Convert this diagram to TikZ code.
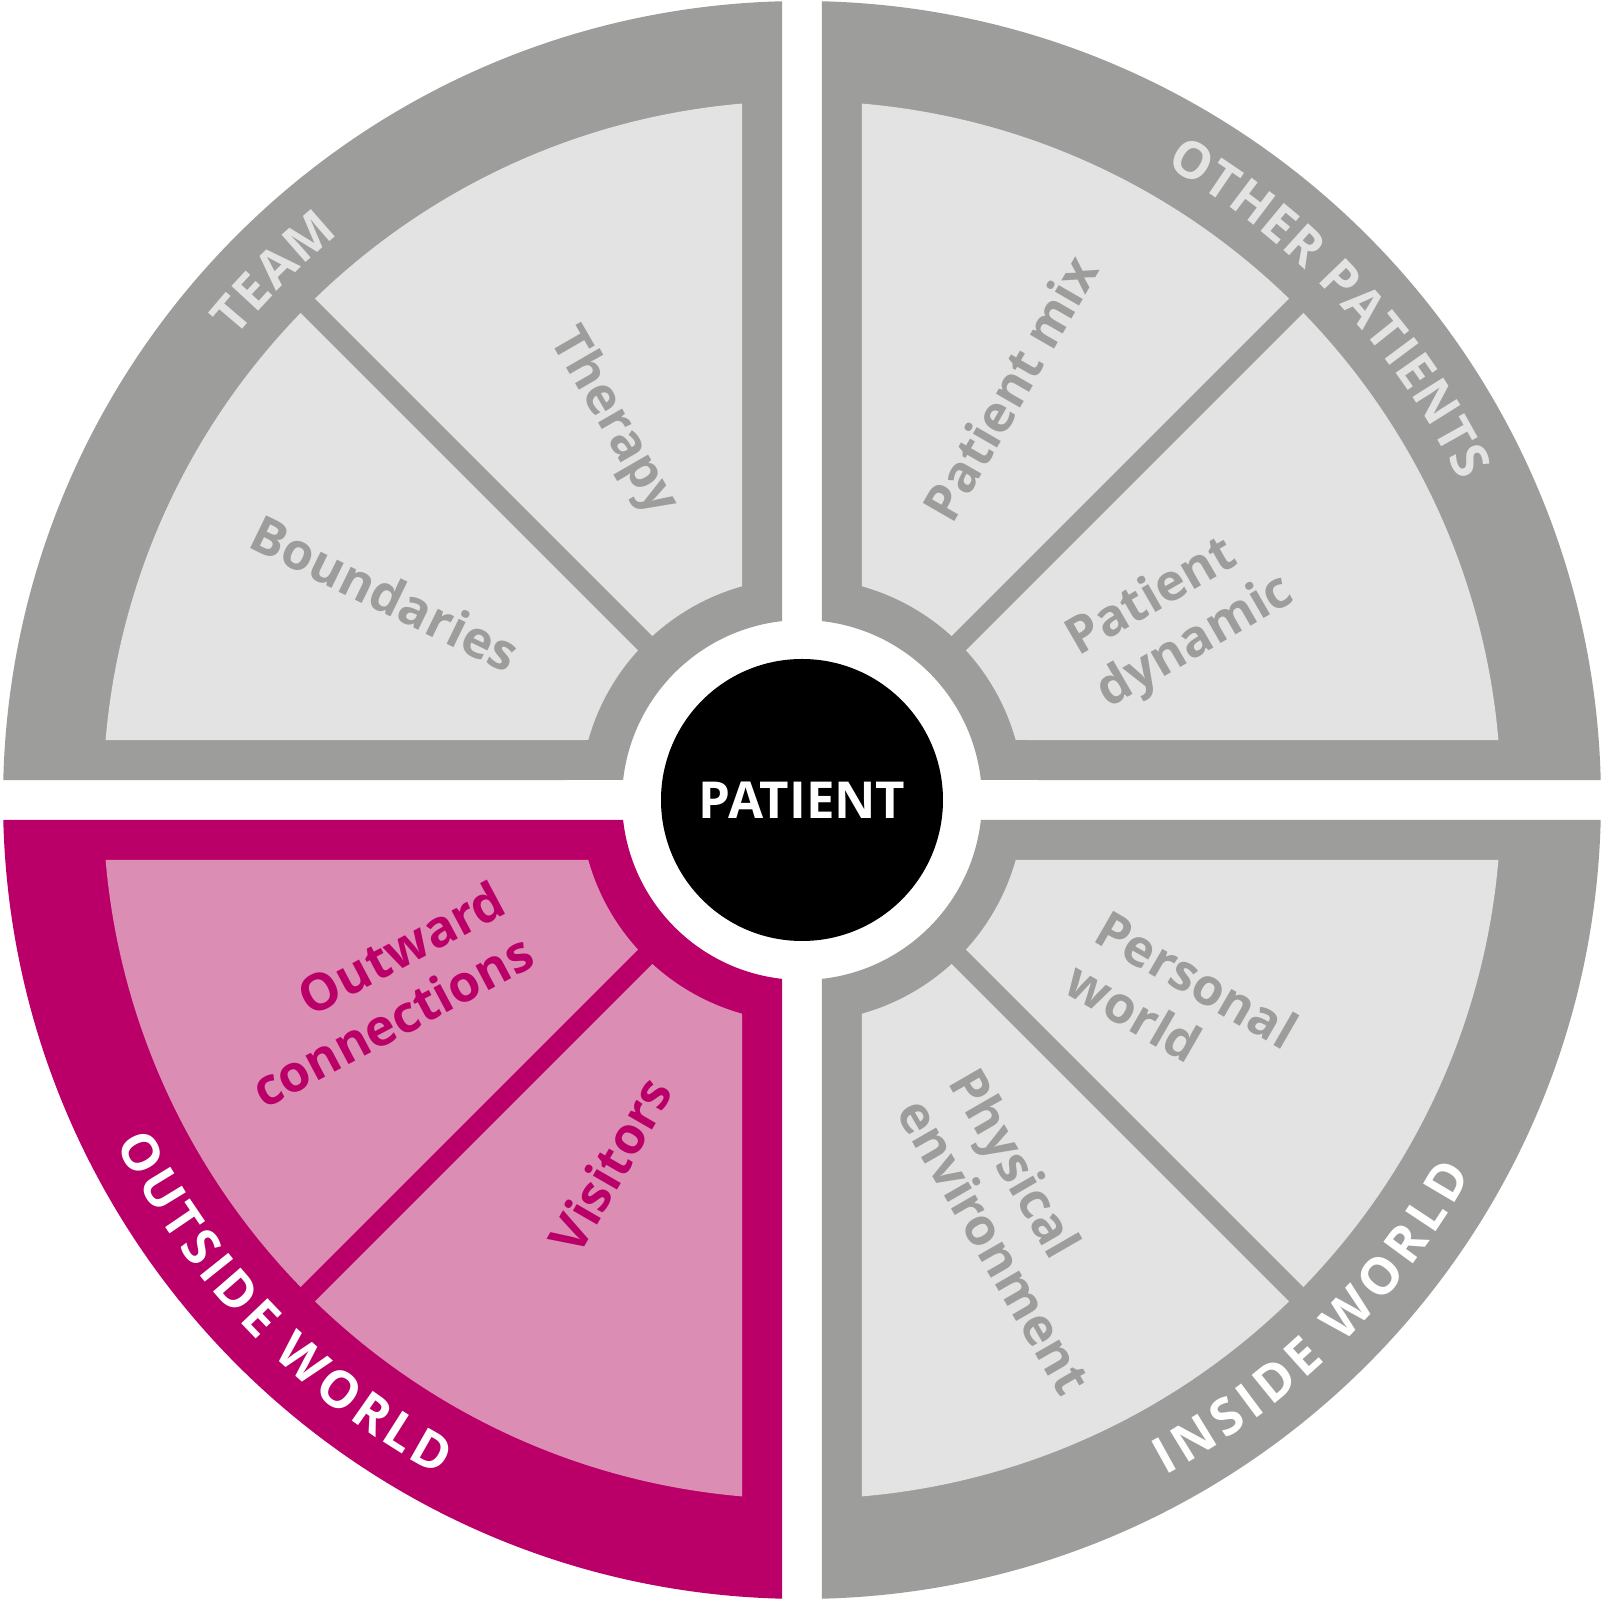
\documentclass[tikz,border=0pt]{standalone}
\usepackage{fontspec}
\setmainfont{Open Sans}
\usepackage{tikz}
\usetikzlibrary{decorations.text}
\definecolor{ptgray}{RGB}{157,157,156}
\definecolor{ptlight}{RGB}{227,227,227}
\definecolor{ptmagenta}{RGB}{186,0,104}
\definecolor{ptpink}{RGB}{219,141,179}
\newcommand{\ptfont}{\bfseries\fontsize{14.5}{17}\selectfont}
% one quarter: ring band, inner field, divider (#1 rotation, #2 band, #3 field)
\newcommand{\ptquadrant}[3]{%
  \begin{scope}[rotate=#1]
    \fill[#2] (88.57:7.99) arc[start angle=88.57, end angle=1.43, radius=7.99]
      -- (6.38:1.80) arc[start angle=6.38, end angle=83.62, radius=1.80] -- cycle;
    \fill[#3] (85.08:6.99) arc[start angle=85.08, end angle=4.92, radius=6.99]
      -- (15.68:2.22) arc[start angle=15.68, end angle=74.32, radius=2.22] -- cycle;
    \draw[#2, line width=0.2cm] (45:2.0) -- (45:7.2);
  \end{scope}}

\begin{document}
\begin{tikzpicture}[
  field/.style={font=\ptfont, inner sep=0pt, text=ptgray},
  outfield/.style={field, text=ptmagenta},
  ringtext/.style={decorate, decoration={text along path, text align={fit to path}, text color=#1}}
]
  % --- Page ---
  \fill[white] (-8.02,-8.00) rectangle (8.00,8.00);

  % --- Quadrants ---
  \ptquadrant{0}{ptgray}{ptlight}
  \ptquadrant{90}{ptgray}{ptlight}
  \ptquadrant{180}{ptmagenta}{ptpink}
  \ptquadrant{270}{ptgray}{ptlight}

  % --- Centre ---
  \node[circle, fill=black, minimum size=2.82cm, inner sep=0pt, text=white, font=\ptfont]
    (patient) at (0,0) {PATIENT};

  % --- Ring titles ---
  \path[ringtext=ptlight, decoration={text={|\ptfont|TEAM}}]
    (140.8:7.31) arc[start angle=140.8, end angle=129.3, radius=7.31];
  \path[ringtext=ptlight, decoration={text={|\ptfont|OTHER PATIENTS}}]
    (60.2:7.31) arc[start angle=60.2, end angle=25.8, radius=7.31];
  \path[ringtext=white, decoration={text={|\ptfont|OUTSIDE WORLD}}]
    (206.6:7.67) arc[start angle=206.6, end angle=241.8, radius=7.67];
  \path[ringtext=white, decoration={text={|\ptfont|INSIDE WORLD}}]
    (298.3:7.67) arc[start angle=298.3, end angle=330.8, radius=7.67];

  % --- Field labels ---
  \node[field, rotate=-60]              (therapy)    at (-1.89,3.78)  {Therapy};
  \node[field, rotate=-26]              (boundaries) at (-4.17,2.07)  {Boundaries};
  \node[field, rotate=60]               (patientmix) at (2.08,4.12)   {Patient mix};
  \node[field, rotate=30, align=left]   (dynamic)    at (3.79,1.83)   {Patient\\dynamic};
  \node[field, rotate=-30, align=left]  (personal)   at (3.80,-2.05)  {Personal\\world};
  \node[field, rotate=-60, align=left]  (physical)   at (2.19,-4.31)  {Physical\\environment};
  \node[outfield, rotate=28, align=right] (outward)  at (-4.24,-1.94) {Outward\\connections};
  \node[outfield, rotate=60]            (visitors)   at (-1.92,-3.65) {Visitors};
\end{tikzpicture}
\end{document}
